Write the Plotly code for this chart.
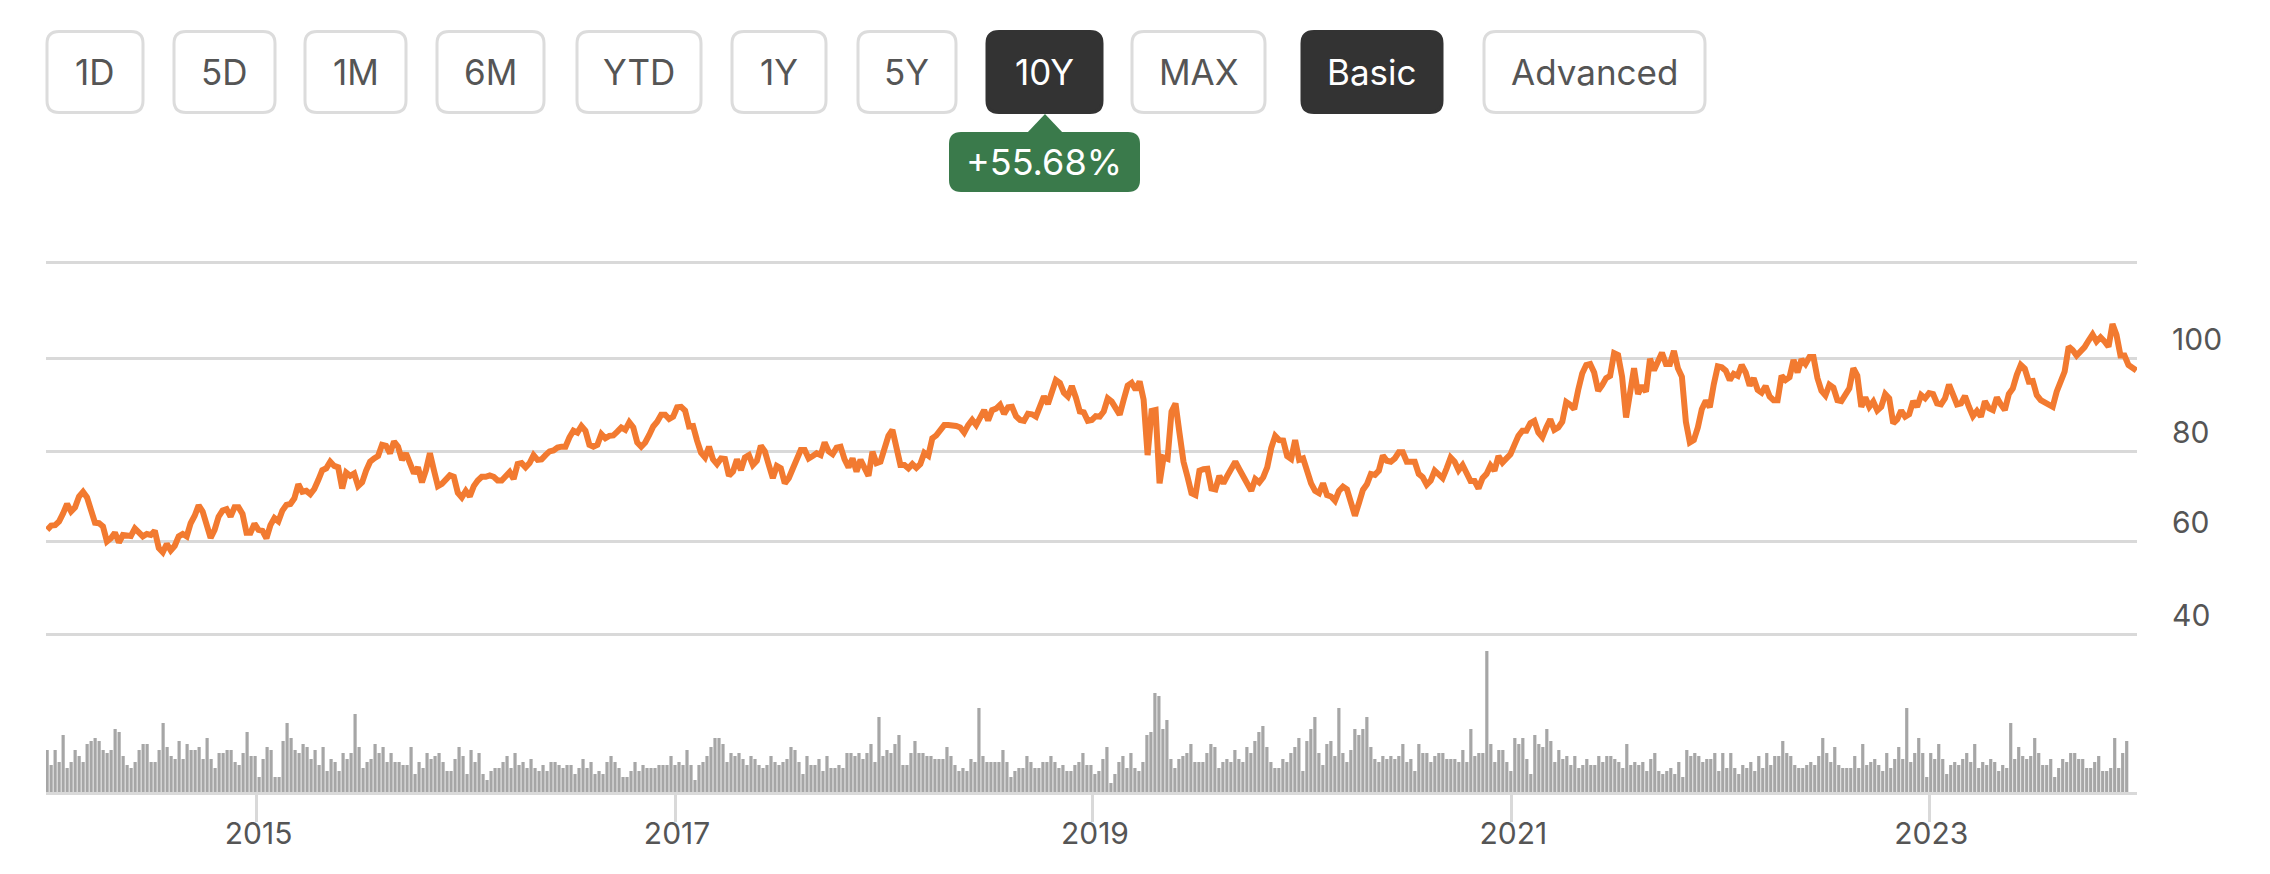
import pandas as pd
import plotly.graph_objects as go

WIDTH = 2270
HEIGHT = 874

ORANGE = "#f27a30"
GRID = "#d9d9d9"
TEXT = "#555555"
DARK = "#333333"
GREEN = "#3a7a4b"

# weekly close
PRICE_A = [
    63.1, 64.0, 64.1, 64.9, 66.6, 68.6, 67.0, 67.9, 70.2, 71.2, 70.0, 67.0, 64.6, 64.5, 63.8, 60.6,
    61.3, 62.5, 60.4, 62.0, 61.8, 61.8, 63.4, 62.4, 61.7, 62.2, 62.0, 62.9, 59.2, 58.3, 60.1, 58.7,
    59.7, 61.7, 62.2, 61.7, 64.5, 66.1, 68.3, 67.0, 64.1, 61.4, 63.1, 65.9, 67.2, 67.5, 65.9, 67.9,
    67.9, 66.5, 62.5, 62.5, 64.4, 63.1, 62.9, 61.3, 64.1, 65.6, 64.9, 67.2, 68.4, 68.6, 69.8, 72.8,
    71.2, 71.4, 70.7, 71.8, 73.7, 75.8, 76.2, 77.6, 76.7, 76.4, 71.9, 75.3, 74.6, 75.1, 72.4, 73.2,
    75.7, 77.6, 78.3, 78.8, 81.2, 81.0, 79.4, 81.9, 80.8, 78.0, 79.4, 76.9, 75.1, 76.4, 73.2, 75.8,
    79.4, 75.8, 72.4, 72.9, 73.7, 74.7, 74.4, 71.0, 70.0, 71.4, 70.2, 72.4, 73.6, 74.4, 74.4, 74.7,
    74.4, 73.6, 73.6, 74.7, 75.4, 73.9, 77.1, 77.3, 76.4, 77.3, 79.0, 78.0, 78.1, 79.0, 79.8, 80.0,
    80.6, 80.8,
]
PRICE_B = [
    80.8, 82.8, 84.2, 83.8, 85.2, 84.2, 81.2, 80.8, 81.2, 83.5, 82.6, 83.1, 83.2, 84.0, 84.9, 84.4,
    86.0, 84.9, 81.7, 80.8, 81.7, 83.3, 85.1, 86.1, 87.6, 87.6, 86.7, 87.2, 89.2, 89.3, 88.5, 85.1,
    85.2, 82.1, 79.5, 78.5, 80.8, 78.1, 77.1, 78.3, 78.2, 74.6, 75.5, 78.1, 75.8, 78.5, 79.0, 76.9,
    77.8, 81.0, 79.8, 76.9, 74.1, 76.7, 76.2, 73.0, 74.1, 76.1, 78.5, 80.1, 80.1, 78.3, 78.8, 79.4,
    79.0, 81.7, 79.8, 79.2, 80.6, 80.8, 78.1, 76.4, 78.3, 75.5, 78.0, 76.6, 74.6, 79.7, 77.3, 77.6,
    81.0, 83.1, 84.4, 80.1, 76.9, 76.9, 76.2, 77.1, 76.3, 77.1, 79.5, 78.9, 82.6, 83.2, 84.4, 85.4,
    85.4, 85.4, 85.2, 84.9, 83.8, 85.4, 86.5, 85.4, 87.2, 88.6, 86.4, 88.6, 88.9, 89.7, 87.8, 89.2,
    89.3, 87.3, 86.5, 86.3, 87.8, 87.7, 87.2, 89.7, 91.5, 89.9, 92.5, 95.0, 94.4, 92.3, 91.5, 93.7,
    91.3, 88.3, 88.1, 86.3,
]
PRICE_C = [
    86.5, 87.3, 87.2, 88.3, 91.1, 90.4, 89.0, 87.6, 90.8, 93.8, 94.4, 92.9, 94.7, 90.8, 79.0, 88.4,
    88.6, 73.0, 78.5, 78.2, 88.3, 90.0, 83.7, 77.6, 74.4, 70.9, 70.5, 75.7, 76.0, 76.1, 71.9, 71.7,
    74.6, 73.0, 74.6, 76.2, 77.6, 76.0, 74.4, 72.9, 71.4, 73.9, 73.2, 74.3, 76.4, 80.5, 83.1, 82.2,
    82.1, 78.8, 78.2, 82.2, 78.0, 78.3, 75.5, 73.0, 71.4, 70.9, 73.0, 70.5, 70.2, 69.3, 71.4, 72.3,
    71.7, 68.8, 66.1, 68.8, 71.6, 72.8, 75.0, 74.8, 75.7, 78.9, 77.8, 77.6, 78.3, 79.6, 79.6, 77.6,
    77.6, 77.6, 75.0, 74.3, 72.7, 73.6, 75.7, 74.8, 74.1, 76.2, 78.5, 77.6, 75.8, 76.9, 75.0, 73.5,
    73.5, 71.9, 74.1, 75.0, 76.8, 75.7, 78.8, 77.4, 78.3, 79.2, 81.2, 83.1, 84.2, 84.2, 85.8, 86.3,
    83.8, 82.8, 84.9, 86.6, 84.4, 84.9, 86.1, 90.3, 89.7, 88.8, 92.9, 96.4, 98.2, 98.4, 96.6, 92.7,
    93.9, 95.4, 95.9, 100.7,
]
PRICE_D = [
    100.3, 95.7, 87.0, 93.1, 97.5, 92.0, 93.8, 92.5, 99.5, 97.1, 99.3, 100.8, 98.4, 98.4, 101.2, 97.5,
    95.7, 86.1, 81.7, 82.2, 84.9, 88.8, 90.6, 89.2, 94.1, 97.9, 97.7, 97.0, 95.0, 96.3, 95.9, 98.2,
    96.6, 93.8, 95.4, 92.9, 92.3, 93.7, 91.5, 90.7, 90.7, 95.9, 95.0, 95.6, 99.3, 96.6, 99.4, 98.4,
    99.9, 99.9, 95.4, 92.7, 91.7, 94.0, 93.4, 90.7, 90.5, 92.2, 93.2, 97.5, 95.9, 89.3, 91.3, 89.3,
    90.4, 88.5, 89.3, 92.0, 91.1, 85.8, 86.6, 88.5, 87.2, 87.7, 90.5, 89.3, 91.8, 91.1, 92.2, 92.0,
    90.0, 89.8, 91.1, 94.0, 91.8, 89.8, 90.0, 91.6, 89.3, 87.3, 88.4, 87.2, 90.5, 89.0, 88.6, 91.3,
    89.8, 88.6, 92.0, 93.2, 96.1, 98.2, 97.4, 94.7, 94.8, 91.8, 90.7, 90.2, 89.6, 89.3, 92.5, 94.7,
    96.8, 102.1, 101.4, 100.2, 101.0, 102.0, 103.4, 104.7, 103.2, 104.1, 103.2, 102.1, 106.9, 104.6, 100.2, 100.2,
    98.2, 97.7, 97.0,
]

# weekly volume
VOLUME_A = [
    14, 9, 14, 10, 19, 8, 10, 14, 12, 10, 16, 17, 18, 17, 14, 13, 14, 21, 20, 12, 9, 8, 10, 14, 16, 16,
    10, 10, 14, 23, 15, 12, 11, 17, 11, 16, 14, 14, 15, 11, 18, 11, 8, 13, 13, 14, 14, 10, 9, 13, 20, 12,
    12, 5, 11, 15, 14, 5, 5, 17, 23, 18, 14, 13, 16, 15, 11, 14, 9, 15, 7, 11, 10, 7, 13, 11, 13, 26,
    15, 8, 10, 11, 16, 13, 15, 10, 13, 10, 10, 9, 9, 15, 6, 10, 8, 13, 11, 12, 13, 10, 7, 7, 11, 15,
    12, 6, 14, 10, 13, 6, 4, 7, 8, 8, 10, 12, 8, 13, 9, 10, 8, 11, 8, 7, 9, 7, 10, 10, 9, 8, 9, 9,
    6, 8, 11, 8, 10, 6, 7, 6, 10, 12, 10, 8, 5, 5, 7, 10, 7, 9, 8, 8, 8, 9, 9, 9, 12, 9, 10, 9, 14,
    9, 4, 9, 10, 12, 15, 18, 18, 16, 10, 13, 12, 13, 11, 9, 12, 11, 9,
]
VOLUME_B = [
    8, 9, 12, 10, 9, 10, 11, 15, 14, 10, 6, 12, 9, 9, 11, 7, 12, 8, 8, 9, 8, 13, 13, 12, 13, 11, 13, 16,
    10, 25, 12, 14, 13, 16, 19, 9, 9, 13, 17, 13, 13, 12, 12, 11, 11, 11, 15, 12, 9, 7, 8, 7, 11, 10,
    28, 12, 10, 10, 10, 10, 14, 10, 5, 7, 8, 8, 12, 10, 8, 8, 10, 10, 12, 10, 8, 9, 7, 7, 9, 10, 13,
    9, 9, 6, 7, 11, 15, 3, 6, 10, 12, 8, 13, 8, 7, 10, 19, 20, 33, 32, 21, 24, 11, 8, 11, 12, 13, 16,
    10, 10, 10, 13, 16, 15, 8, 10, 11, 10, 14, 11, 10, 15, 13, 17, 20, 22, 15, 10, 8, 8, 11, 10, 13,
    15, 18, 7, 17, 21, 25, 13, 9, 16, 17, 12, 28, 13, 10, 14, 21, 19, 21, 25, 15, 11, 10, 12, 11, 12,
    11, 12, 16, 10, 11, 7, 16, 13, 13, 10, 12, 13, 13, 11, 11, 11, 10, 14, 10, 21, 12, 13, 13, 47, 16,
    10, 14, 14, 10, 7,
]
VOLUME_C = [
    18, 16, 18, 11, 6, 19, 16, 15, 21, 17, 10, 14, 11, 12, 9, 12, 8, 9, 11, 9, 9, 12, 10, 12, 12, 11,
    10, 8, 16, 9, 10, 9, 10, 7, 11, 13, 7, 6, 7, 8, 6, 10, 5, 14, 12, 13, 12, 10, 11, 11, 13, 7, 13,
    8, 13, 8, 6, 9, 8, 10, 7, 12, 8, 13, 9, 12, 12, 17, 13, 12, 9, 8, 8, 9, 10, 9, 12, 18, 13, 10,
    15, 9, 8, 8, 8, 12, 8, 16, 9, 10, 11, 9, 7, 13, 8, 11, 15, 11, 28, 10, 13, 18, 13, 5, 13, 11, 16,
    11, 6, 9, 10, 9, 11, 13, 10, 16, 8, 10, 9, 11, 10, 7, 9, 8, 23, 11, 15, 12, 11, 12, 18, 13, 9, 9,
    11, 5, 8, 11, 10, 13, 13, 11, 11, 8, 8, 10, 12, 7, 7, 8, 18, 8, 13, 17,
]

YEAR_TICKS = ["2015-01-01", "2017-01-01", "2019-01-01", "2021-01-01", "2023-01-01"]
YEAR_LABELS = ["2015", "2017", "2019", "2021", "2023"]
# the grid in the picture is not evenly spaced, these are where its lines sit
GRID_VALUES = [40.85, 60.66, 79.82, 99.63, 120.06]
GRID_LABELS = ["40", "60", "80", "100", ""]

RANGE_LABELS = ["1D", "5D", "1M", "6M", "YTD", "1Y", "5Y", "10Y", "MAX", "Basic", "Advanced"]
ACTIVE_LABELS = ["10Y", "Basic"]
CHANGE_LABEL = "+55.68%"

# button edges in screen pixels
BUTTON_EDGES = [
    (47, 143), (174, 275), (305, 406), (437, 544), (577, 701), (732, 826),
    (858, 956), (987, 1102), (1132, 1265), (1302, 1442), (1484, 1705),
]


def px(x):
    return x / WIDTH


def py(y):
    return 1 - y / HEIGHT


def rounded_rect(x0, y0, x1, y1, r=12):
    return (
        f"M {px(x0 + r)} {py(y0)} L {px(x1 - r)} {py(y0)} Q {px(x1)} {py(y0)} {px(x1)} {py(y0 + r)} "
        f"L {px(x1)} {py(y1 - r)} Q {px(x1)} {py(y1)} {px(x1 - r)} {py(y1)} "
        f"L {px(x0 + r)} {py(y1)} Q {px(x0)} {py(y1)} {px(x0)} {py(y1 - r)} "
        f"L {px(x0)} {py(y0 + r)} Q {px(x0)} {py(y0)} {px(x0 + r)} {py(y0)} Z"
    )


price = PRICE_A + PRICE_B + PRICE_C + PRICE_D
volume = VOLUME_A + VOLUME_B + VOLUME_C
price_dates = pd.date_range("2013-12-31", "2023-12-29", periods=len(price))
volume_dates = pd.date_range("2013-12-31", "2023-12-12", periods=len(volume))

fig = go.Figure()
fig.add_trace(go.Bar(
    x=volume_dates, y=volume, yaxis="y2",
    marker=dict(color="#a6a6a6", line=dict(width=0)),
    hoverinfo="skip",
))
fig.add_trace(go.Scatter(
    x=price_dates, y=price, mode="lines",
    line=dict(color=ORANGE, width=6),
))

# buttons along the top
shapes = []
annotations = []
for label, (x0, x1) in zip(RANGE_LABELS, BUTTON_EDGES):
    active = label in ACTIVE_LABELS
    shapes.append(dict(
        type="path", xref="paper", yref="paper", path=rounded_rect(x0, 31.5, x1, 112.5),
        fillcolor=DARK if active else "white",
        line=dict(color=DARK if active else "#dcdcdc", width=3),
    ))
    annotations.append(dict(
        text=label, xref="paper", yref="paper", x=px((x0 + x1) / 2), y=py(72),
        xanchor="center", yanchor="middle",
        showarrow=False, font=dict(size=35, color="white" if active else TEXT),
    ))

# green badge under the active range
shapes.append(dict(
    type="path", xref="paper", yref="paper", path=rounded_rect(949, 132, 1140, 192),
    fillcolor=GREEN, line=dict(width=0),
))
shapes.append(dict(
    type="path", xref="paper", yref="paper",
    path=f"M {px(1027)} {py(133)} L {px(1045)} {py(114)} L {px(1063)} {py(133)} Z",
    fillcolor=GREEN, line=dict(width=0),
))
annotations.append(dict(
    text=CHANGE_LABEL, xref="paper", yref="paper", x=px(1044), y=py(162),
    xanchor="center", yanchor="middle",
    showarrow=False, font=dict(size=36, color="white"),
))

fig.update_layout(
    width=WIDTH,
    height=HEIGHT,
    autosize=False,
    margin=dict(l=0, r=0, t=0, b=0),
    paper_bgcolor="white",
    plot_bgcolor="white",
    showlegend=False,
    bargap=0.2,
    font=dict(family="Inter, Roboto, sans-serif", color=TEXT, size=30),
    shapes=shapes,
    annotations=annotations,
    xaxis=dict(
        domain=[px(46), px(2137)],
        anchor="y2",
        type="date",
        range=["2013-12-29", "2023-12-30"],
        tickvals=YEAR_TICKS,
        ticktext=YEAR_LABELS,
        ticks="outside",
        ticklen=27,
        tickwidth=3,
        tickcolor=GRID,
        showline=True,
        linecolor=GRID,
        linewidth=3,
        showgrid=False,
        zeroline=False,
        ticklabelstandoff=-14,
        ticklabelshift=2,
    ),
    yaxis=dict(
        # range runs past the outer grid lines so plotly keeps them
        domain=[py(643), py(257.9)],
        anchor="x",
        side="right",
        range=[39, 121],
        tickvals=GRID_VALUES,
        ticktext=GRID_LABELS,
        ticks="",
        ticklabelposition="outside top",
        ticklabelstandoff=34,
        ticklabelshift=2,
        showgrid=True,
        gridcolor=GRID,
        gridwidth=3,
        zeroline=False,
        showline=False,
    ),
    yaxis2=dict(
        domain=[py(792), py(642)],
        anchor="x",
        range=[0, 50],
        visible=False,
    ),
)

fig.write_html(
    "out.html",
    config={"displayModeBar": False},
    post_script="document.body.style.margin = '0';",
)
